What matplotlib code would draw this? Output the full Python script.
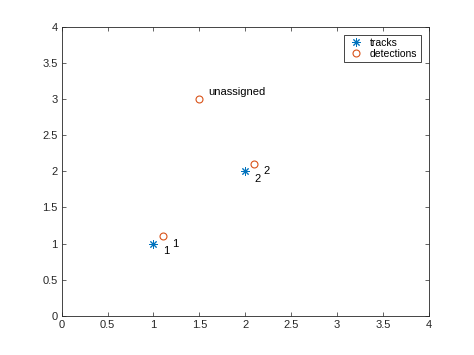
import numpy as np
import matplotlib.pyplot as plt

plt.rcParams['font.family'] = ['Liberation Sans', 'DejaVu Sans']

# Данные: треки и обнаружения
track_x = [1.0, 2.0]
track_y = [1.0, 2.0]
track_labels = ['1', '2']

det_x = [1.1, 2.1, 1.5]
det_y = [1.1, 2.1, 3.0]
det_labels = ['1', '2', 'unassigned']
det_label_dy = [-0.1, -0.1, 0.1]

axis_col = '#262626'

fig = plt.figure(figsize=(4.74, 3.55), dpi=100)
ax = fig.add_axes([0.13, 0.11, 0.775, 0.815])

# звёздочка как в MATLAB: 8 лучей
ax.plot(track_x, track_y, linestyle='none', marker=(8, 2, 0), color='#0072BD',
        markersize=6, markeredgewidth=0.7, label='tracks')
ax.plot(det_x, det_y, linestyle='none', marker='o', markerfacecolor='none',
        markeredgecolor='#D95319', markersize=5, markeredgewidth=0.8,
        label='detections')

for x, y, s in zip(track_x, track_y, track_labels):
    ax.text(x + 0.1, y - 0.1, s, fontsize=8, va='center', ha='left', color='black')

for x, y, s, dy in zip(det_x, det_y, det_labels, det_label_dy):
    ax.text(x + 0.1, y + dy, s, fontsize=8, va='center', ha='left', color='black')

ax.set_xlim(0, 4)
ax.set_ylim(0, 4)
ax.set_xticks(np.arange(0, 4.01, 0.5))
ax.set_yticks(np.arange(0, 4.01, 0.5))
ax.set_xticklabels(['0', '0.5', '1', '1.5', '2', '2.5', '3', '3.5', '4'])
ax.set_yticklabels(['0', '0.5', '1', '1.5', '2', '2.5', '3', '3.5', '4'])
ax.tick_params(direction='in', top=True, right=True, length=3, width=0.5,
               labelsize=8, colors=axis_col, pad=3)
for sp in ax.spines.values():
    sp.set_linewidth(0.6)
    sp.set_color(axis_col)

leg = ax.legend(loc='upper right', fontsize=7.5, fancybox=False, framealpha=1,
                edgecolor=axis_col, borderpad=0.3, handletextpad=0.4,
                labelspacing=0.1, handlelength=1.8, borderaxespad=0.8)
leg.get_frame().set_linewidth(0.6)

fig.savefig('out.png', dpi=100)
